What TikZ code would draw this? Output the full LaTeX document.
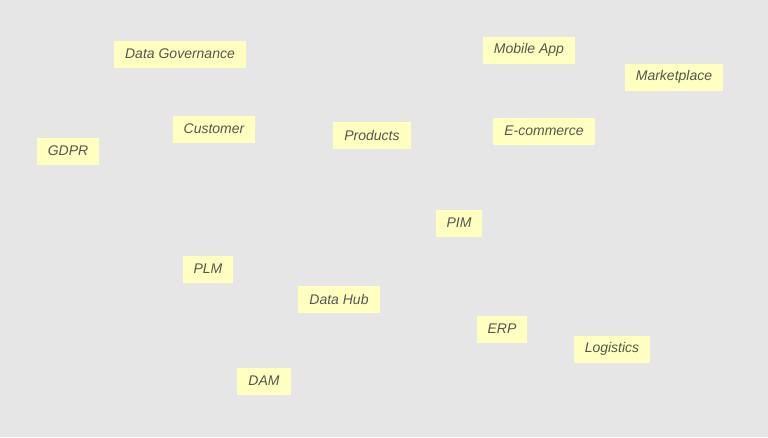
\documentclass[tikz,border=0pt]{standalone}
\usepackage{fontspec}
\setmainfont{Liberation Sans}
\usetikzlibrary{positioning}
\definecolor{board}{HTML}{E6E6E6}
\definecolor{sticky}{HTML}{FFFFC0}
\definecolor{ink}{HTML}{555555}
\tikzset{x=1pt, y=-1pt,
every sticky/.style={ % Sets the properties for each note
fill=sticky,
text=ink,
font=\itshape\fontsize{14}{16}\selectfont,
inner xsep=11pt,
minimum height=27pt}}

\begin{document}
\begin{tikzpicture}
\fill[board] (0,0) rectangle (768,437);
\useasboundingbox (0,0) rectangle (768,437);
\node[every sticky] (gov) at (180,54) {Data Governance};
\node[every sticky] (mobile) at (529,50) {Mobile App};
\node[every sticky] (market) at (674,77) {Marketplace};
\node[every sticky] (customer) at (214,129) {Customer};
\node[every sticky] (products) at (372,135) {Products};
\node[every sticky] (ecom) at (544,131) {E-commerce};
\node[every sticky] (gdpr) at (68,151) {GDPR};
\node[every sticky] (pim) at (459,223) {PIM};
\node[every sticky] (plm) at (208,269) {PLM};
\node[every sticky] (hub) at (339,299) {Data Hub};
\node[every sticky] (erp) at (502,329) {ERP};
\node[every sticky] (logistics) at (612,349) {Logistics};
\node[every sticky] (dam) at (264,381) {DAM};
\end{tikzpicture}
\end{document}
